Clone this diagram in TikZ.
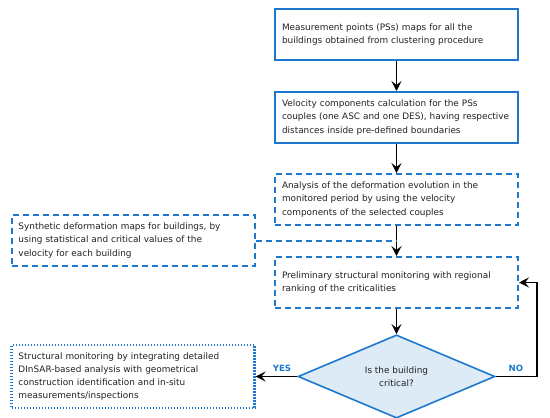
\documentclass[tikz,border=0pt]{standalone}
\usepackage{fontspec}
\setmainfont{DejaVu Sans}
\usetikzlibrary{shapes.geometric,arrows.meta}
\definecolor{flowblue}{RGB}{30,120,205}
\definecolor{flowfill}{RGB}{221,235,247}
\definecolor{flowtext}{RGB}{34,34,34}
\tikzset{
    stepbox/.style={draw=flowblue, line width=2pt, text=flowtext, align=left,
        text width=229pt, minimum height=51pt, inner sep=7pt, font=\fontsize{8.9}{13.2}\selectfont},
    dashbox/.style={stepbox, dash pattern=on 6pt off 4pt},
    dotbox/.style={stepbox, line width=2.2pt, dash pattern=on 1.2pt off 1.8pt},
    decision/.style={diamond, draw=flowblue, fill=flowfill, line width=1.6pt, text=flowtext,
        align=center, minimum width=197pt, minimum height=76pt, inner sep=0pt,
        font=\fontsize{8.9}{13.2}\selectfont},
    answer/.style={text=flowblue, font=\bfseries\fontsize{8.6}{10}\selectfont},
    flow/.style={-{Stealth[length=10pt,width=10pt,inset=4pt]}, line width=1.8pt}
}
\begin{document}
\begin{tikzpicture}[x=1pt,y=-1pt]
    \useasboundingbox (0,0) rectangle (550,418);
    \node[stepbox] at (396.5,34.5) (meas) {Measurement points (PSs) maps for all the\\buildings obtained from clustering procedure};
    \node[stepbox] at (396.5,117.5) (vel) {Velocity components calculation for the PSs\\couples (one ASC and one DES), having respective\\distances inside pre-defined boundaries};
    \node[dashbox] at (396.5,199.5) (anal) {Analysis of the deformation evolution in the\\monitored period by using the velocity\\components of the selected couples};
    \node[dashbox] at (133,240.5) (synth) {Synthetic deformation maps for buildings, by\\using statistical and critical values of the\\velocity for each building};
    \node[dashbox] at (396.5,282.5) (prelim) {Preliminary structural monitoring with regional\\ranking of the criticalities};
    \node[decision] at (396.5,376.5) (crit) {Is the building\\critical?};
    \node[dotbox, minimum height=61pt] at (133,376.5) (struct) {Structural monitoring by integrating detailed\\DInSAR-based analysis with geometrical\\construction identification and in-situ\\measurements/inspections};
    \node[answer] at (282,368) (yes) {YES};
    \node[answer] at (516,368) (no) {NO};
    \draw[flow] (meas) -- (vel);
    \draw[flow] (vel) -- (anal);
    \draw[flow] (anal) -- (prelim);
    \coordinate (join) at (anal.south |- synth.east);
    \draw[draw=flowblue, line width=2pt, dash pattern=on 6pt off 4pt] (synth.east) -- (join);
    \draw[flow] (prelim) -- (crit);
    \draw[flow] (crit.west) -- (struct.east);
    \draw[flow] (crit.east) -- ++(41,0) |- (prelim.east);
\end{tikzpicture}
\end{document}
